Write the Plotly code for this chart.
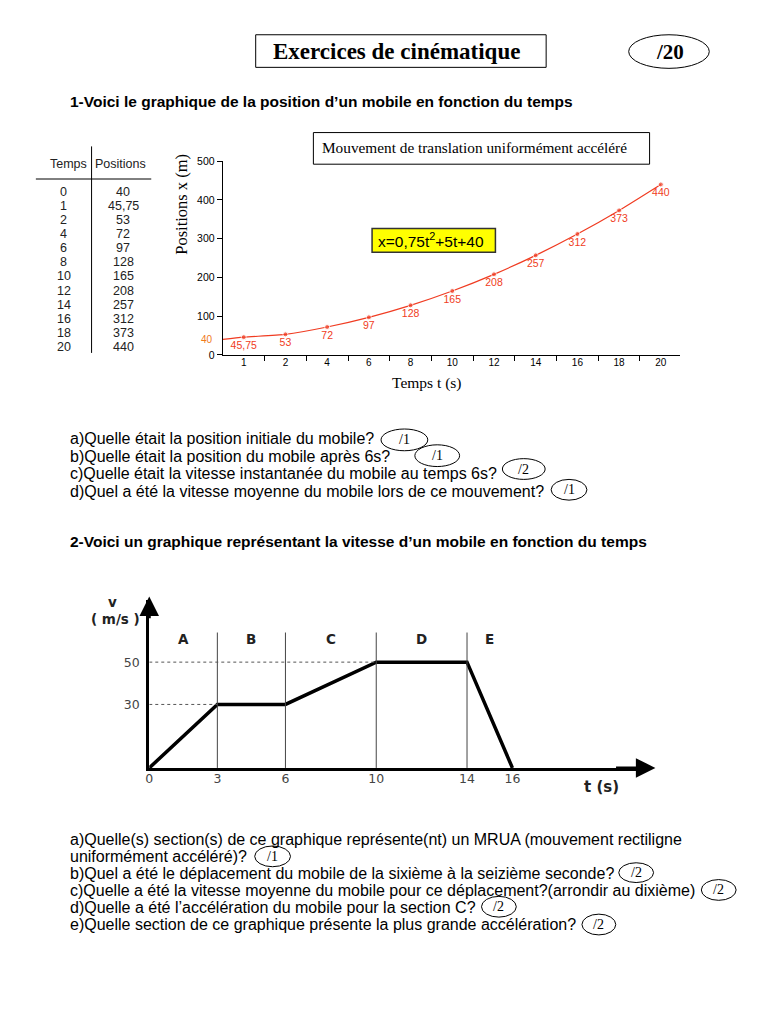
import plotly.graph_objects as go

# ---------------- data ----------------
temps = [0, 1, 2, 4, 6, 8, 10, 12, 14, 16, 18, 20]
positions = [40, 45.75, 53, 72, 97, 128, 165, 208, 257, 312, 373, 440]
position_labels = ["40", "45,75", "53", "72", "97", "128", "165", "208", "257", "312", "373", "440"]
y1_ticks = [0, 100, 200, 300, 400, 500]

v_time = [0, 3, 6, 10, 14, 16]
v_speed = [0, 30, 30, 50, 50, 0]
sections = ["A", "B", "C", "D", "E"]
speed_guides = [30, 50]

# page body has an 8px margin: figure is sized so the whole page is 768x1024
OFFX, OFFY = 10, 8
W, H = 768 - 16, 1024 - 16
def px(x): return (x - OFFX) / W
def py(y): return 1 - (y - OFFY) / H

SANS = "Liberation Sans, Arial, sans-serif"
SERIF = "Liberation Serif, Times New Roman, serif"
RED = "#f03c22"

fig = go.Figure()

# ---- chart 1: positions (category-like spacing, t=0 on the axis) ----
cat_pos = [0] + [i + 0.5 for i in range(len(temps) - 1)]
fig.add_trace(go.Scatter(
    x=cat_pos, y=positions, mode="lines+markers+text",
    line=dict(color=RED, width=1.2, shape="spline", smoothing=0.6),
    marker=dict(color=RED, size=[0] + [5] * (len(temps) - 1)),
    text=[""] + position_labels[1:], textposition="bottom center",
    textfont=dict(family=SANS, size=10.5, color=RED),
    xaxis="x", yaxis="y", cliponaxis=False, hoverinfo="skip"))
# invisible trace carrying the tick-label axis
fig.add_trace(go.Scatter(x=cat_pos[1:], y=positions[1:], mode="markers",
                         marker=dict(size=0, opacity=0), xaxis="x3", yaxis="y",
                         hoverinfo="skip"))

# ---- chart 2: speed ----
fig.add_trace(go.Scatter(
    x=v_time, y=v_speed, mode="lines",
    line=dict(color="black", width=3.5),
    xaxis="x2", yaxis="y2", hoverinfo="skip"))

axis_common = dict(showgrid=False, zeroline=False, fixedrange=True)
fig.update_layout(
    width=W, height=H, autosize=False, showlegend=False,
    margin=dict(l=0, r=0, t=0, b=0),
    paper_bgcolor="white", plot_bgcolor="rgba(0,0,0,0)",
    xaxis=dict(domain=[px(222), px(682)], range=[0, 10.97], anchor="y",
               tickvals=list(range(1, 11)), ticks="outside", ticklen=5, tickcolor="black",
               showticklabels=False, showline=True, linecolor="black", linewidth=1.3,
               **axis_common),
    xaxis3=dict(domain=[px(222), px(682)], range=[0, 10.97], anchor="y", overlaying="x",
                side="bottom",
                tickvals=cat_pos[1:], ticktext=[str(t) for t in temps[1:]], ticks="",
                showline=False, tickfont=dict(family=SANS, size=10, color="black"),
                **axis_common),
    yaxis=dict(domain=[py(353), py(157)], range=[0, 500], anchor="x",
               tickvals=y1_ticks, ticks="outside", ticklen=5, tickcolor="black",
               showline=True, linecolor="black", linewidth=1.3,
               tickfont=dict(family=SANS, size=10.5, color="black"), **axis_common),
    xaxis2=dict(domain=[px(148), px(650)], range=[0, 22], anchor="y2",
                tickvals=v_time, ticktext=[str(t) for t in v_time], ticks="",
                ticklabelstandoff=-3,
                showline=True, linecolor="black", linewidth=3,
                tickfont=dict(family="DejaVu Sans", size=12.5, color="#444"), **axis_common),
    yaxis2=dict(domain=[py(771), py(601)], range=[0, 79.4], anchor="x2",
                tickvals=speed_guides, ticks="", ticklabelstandoff=4,
                showline=True, linecolor="black", linewidth=3,
                tickfont=dict(family="DejaVu Sans", size=12.5, color="#444"), **axis_common),
)

ann = []
shapes = []

def text(x, y, s, size=14, family=SANS, color="black", anchor="left", bold=False, **kw):
    if bold:
        s = "<b>" + s + "</b>"
    ann.append(dict(x=px(x), y=py(y), xref="paper", yref="paper", text=s, showarrow=False,
                    xanchor=anchor, yanchor="middle",
                    font=dict(family=family, size=size, color=color), **kw))

def ellipse(x0, y0, x1, y1, label, size=14):
    shapes.append(dict(type="circle", xref="paper", yref="paper",
                       x0=px(x0), x1=px(x1), y0=py(y1), y1=py(y0),
                       line=dict(color="black", width=1)))
    text((x0 + x1) / 2, (y0 + y1) / 2, label, size=size, family=SERIF, anchor="center")

# ---- header ----
shapes.append(dict(type="rect", xref="paper", yref="paper", x0=px(255), x1=px(547),
                   y0=py(62), y1=py(29), line=dict(color="black", width=1)))
text(397, 46, "Exercices de cinématique", size=23, family=SERIF, anchor="center", bold=True)
shapes.append(dict(type="circle", xref="paper", yref="paper", x0=px(630), x1=px(711),
                   y0=py(63), y1=py(29), line=dict(color="black", width=1)))
text(672, 46, "/20", size=21, family=SERIF, anchor="center", bold=True)

text(66, 97, "1-Voici le graphique de la position d’un mobile en fonction du temps",
     size=15.5, bold=True)

# ---- table ----
shapes.append(dict(type="line", xref="paper", yref="paper", x0=px(34), x1=px(150),
                   y0=py(175), y1=py(175), line=dict(color="black", width=1)))
shapes.append(dict(type="line", xref="paper", yref="paper", x0=px(90), x1=px(90),
                   y0=py(142), y1=py(351), line=dict(color="black", width=1)))
text(67, 160, "Temps", size=12.5, anchor="center", color="#222")
text(119, 160, "Positions", size=12.5, anchor="center", color="#222")
for i, (t, lab) in enumerate(zip(temps, position_labels)):
    yy = 188 + i * (345 - 188) / (len(temps) - 1)
    text(62, yy, str(t), size=12.5, anchor="center", color="#222")
    text(122, yy, lab, size=12.5, anchor="center", color="#222")

# ---- chart 1 decorations ----
shapes.append(dict(type="rect", xref="paper", yref="paper", x0=px(313), x1=px(651),
                   y0=py(160), y1=py(128), line=dict(color="black", width=1)))
text(320, 143, "Mouvement de translation uniformément accéléré", size=15.3, family=SERIF)
shapes.append(dict(type="rect", xref="paper", yref="paper", x0=px(372), x1=px(496),
                   y0=py(249), y1=py(225), line=dict(color="#333", width=1.5),
                   fillcolor="#ffff00"))
text(376, 237, "x=0,75t<sup>2</sup>+5t+40", size=15.5, family=SANS)
text(181, 201, "Positions x (m)", size=16.5, family=SERIF, anchor="center", textangle=-90)
text(427, 381, "Temps t (s)", size=15.5, family=SERIF, anchor="center")
ann.append(dict(x=px(214), y=positions[0], xref="paper", yref="y", text=position_labels[0],
                showarrow=False, xanchor="right", yanchor="middle",
                font=dict(family=SANS, size=10, color="#f07a1a")))

# ---- questions part 1 ----
q1 = ["a)Quelle était la position initiale du mobile?",
      "b)Quelle était la position du mobile après 6s?",
      "c)Quelle était la vitesse instantanée du mobile au temps 6s?",
      "d)Quel a été la vitesse moyenne du mobile lors de ce mouvement?"]
for i, s in enumerate(q1):
    text(66, 438 + i * 17.6, s, size=16)
ellipse(381, 428, 428, 450, "/1")
ellipse(415, 444, 460, 466, "/1")
ellipse(503, 458, 546, 479, "/2")
ellipse(552, 479, 588, 500, "/1")

text(66, 542, "2-Voici un graphique représentant la vitesse d’un mobile en fonction du temps",
     size=15.5, bold=True)

# ---- chart 2 decorations ----
for b in v_time[1:-1]:
    shapes.append(dict(type="line", xref="x2", yref="y2", x0=b, x1=b, y0=0, y1=64,
                       line=dict(color="#444", width=1)))
for v in speed_guides:
    i = v_speed.index(v)
    shapes.append(dict(type="line", xref="x2", yref="y2", x0=0, x1=v_time[i], y0=v, y1=v,
                       line=dict(color="#555", width=1, dash="dot")))
for k, lab in enumerate(sections):
    ann.append(dict(x=(v_time[k] + v_time[k + 1]) / 2, y=61, xref="x2", yref="y2",
                    text="<b>" + lab + "</b>", showarrow=False,
                    font=dict(family="DejaVu Sans", size=13.5, color="#222")))
# axis arrows
ann.append(dict(x=22.3, y=0, xref="x2", yref="y2", ax=20.5, ay=0, axref="x2", ayref="y2",
                showarrow=True, arrowhead=2, arrowsize=1.3, arrowwidth=3, arrowcolor="black", text=""))
ann.append(dict(x=0, y=81, xref="x2", yref="y2", ax=0, ay=70, axref="x2", ayref="y2",
                showarrow=True, arrowhead=2, arrowsize=1.3, arrowwidth=3, arrowcolor="black", text=""))
text(111, 603, "v", size=13.5, family="DejaVu Sans", anchor="center", bold=True, color="#222")
text(114, 620, "( m/s )", size=13.5, family="DejaVu Sans", anchor="center", bold=True, color="#222")
text(603, 790, "t (s)", size=15, family="DejaVu Sans", anchor="center", bold=True, color="#222")

# ---- questions part 2 ----
q2 = ["a)Quelle(s) section(s) de ce graphique représente(nt) un MRUA (mouvement rectiligne",
      "uniformément accéléré)?",
      "b)Quel a été le déplacement du mobile de la sixième à la seizième seconde?",
      "c)Quelle a été la vitesse moyenne du mobile pour ce déplacement?(arrondir au dixième)",
      "d)Quelle a été l’accélération du mobile pour la section C?",
      "e)Quelle section de ce graphique présente la plus grande accélération?"]
for i, s in enumerate(q2):
    text(66, 843 + i * 17.3, s, size=16)
ellipse(254, 850, 290, 871, "/1")
ellipse(620, 867, 655, 887, "/2")
ellipse(703, 884, 738, 905, "/2")
ellipse(482, 901, 517, 922, "/2")
ellipse(583, 919, 617, 940, "/2")

fig.update_layout(annotations=ann, shapes=shapes)
fig.write_html("out.html")
